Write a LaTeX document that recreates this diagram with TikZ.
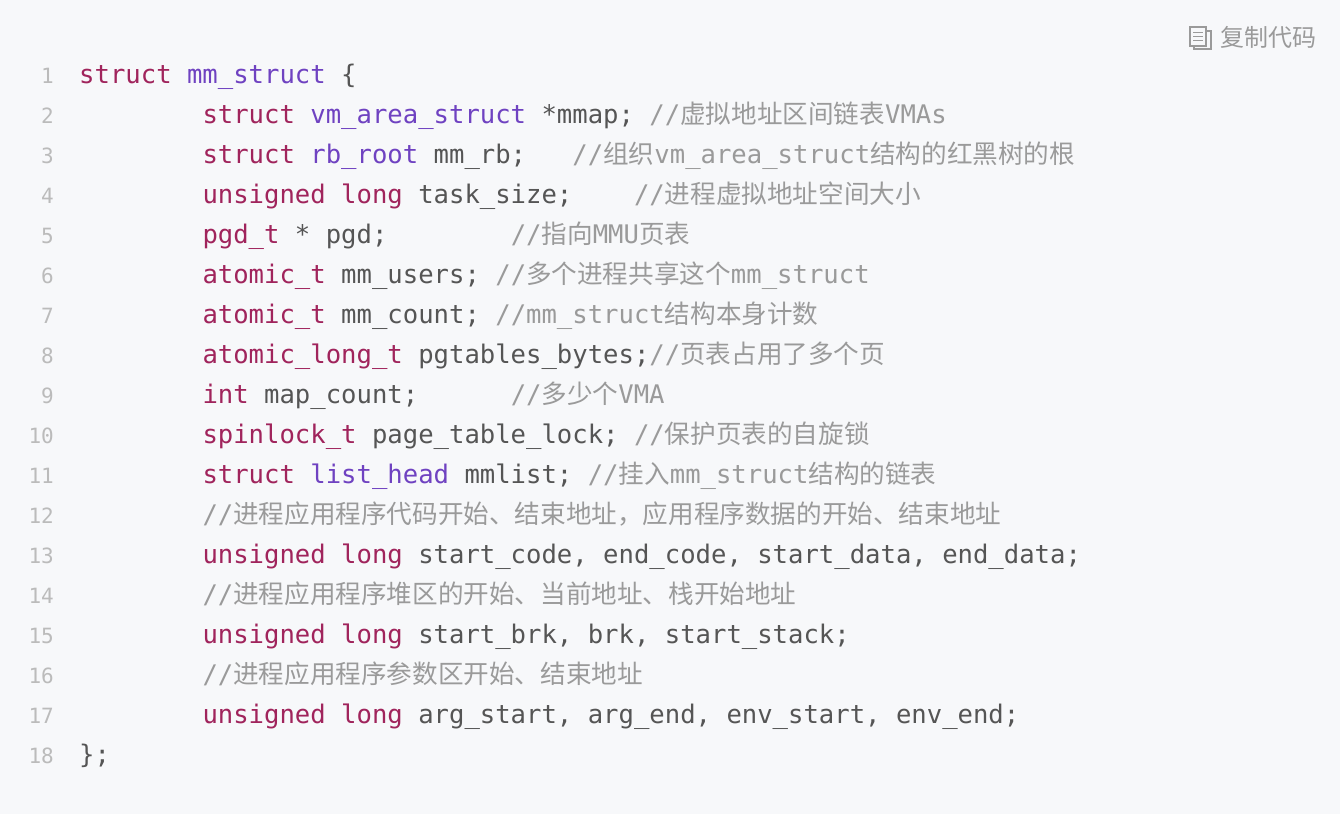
\documentclass[tikz,border=0pt]{standalone}
\usepackage{fontspec}
\setmonofont{DejaVu Sans Mono}
\newfontfamily\cjk{Noto Sans CJK SC}
\definecolor{bg}{HTML}{F7F8FA}
\definecolor{kwc}{HTML}{A0245C}
\definecolor{tyc}{HTML}{6F42C1}
\definecolor{txc}{HTML}{555555}
\definecolor{cmt}{HTML}{9A9A9A}
\definecolor{lnc}{HTML}{BBBBBB}
\newcommand\K[1]{\textcolor{kwc}{#1}}
\newcommand\T[1]{\textcolor{tyc}{#1}}
\newcommand\M[1]{\textcolor{cmt}{#1}}
\newcommand\C[1]{{\cjk #1}}
\newcommand\SP[1]{\hspace*{#1\fontcharwd\font`0}}
\newcommand\CL[2]{\node[code] (l#1) at (79,{83+40*(#1-1)}) {#2};}
\tikzset{code/.style={anchor=base west,inner sep=0,font=\ttfamily\fontsize{25.6}{30}\selectfont,text=txc},
 num/.style={anchor=base east,inner sep=0,font=\ttfamily\fontsize{21}{26}\selectfont,text=lnc}}
\begin{document}
\begin{tikzpicture}[x=1pt,y=-1pt]
\fill[bg] (0,0) rectangle (1340,814);
\useasboundingbox (0,0) rectangle (1340,814);
\foreach \i in {1,...,18}{\node[num] (n\i) at (54,{83+40*(\i-1)}) {\i};}
\CL{1}{\K{struct} \T{mm\_struct} \{}
\CL{2}{\SP8\K{struct} \T{vm\_area\_struct} *mmap; \M{//\C{虚拟地址区间链表}VMAs}}
\CL{3}{\SP8\K{struct} \T{rb\_root} mm\_rb;\SP3\M{//\C{组织}vm\_area\_struct\C{结构的红黑树的根}}}
\CL{4}{\SP8\K{unsigned} \K{long} task\_size;\SP4\M{//\C{进程虚拟地址空间大小}}}
\CL{5}{\SP8\K{pgd\_t} * pgd;\SP8\M{//\C{指向}MMU\C{页表}}}
\CL{6}{\SP8\K{atomic\_t} mm\_users; \M{//\C{多个进程共享这个}mm\_struct}}
\CL{7}{\SP8\K{atomic\_t} mm\_count; \M{//mm\_struct\C{结构本身计数}}}
\CL{8}{\SP8\K{atomic\_long\_t} pgtables\_bytes;\M{//\C{页表占用了多个页}}}
\CL{9}{\SP8\K{int} map\_count;\SP6\M{//\C{多少个}VMA}}
\CL{10}{\SP8\K{spinlock\_t} page\_table\_lock; \M{//\C{保护页表的自旋锁}}}
\CL{11}{\SP8\K{struct} \T{list\_head} mmlist; \M{//\C{挂入}mm\_struct\C{结构的链表}}}
\CL{12}{\SP8\M{//\C{进程应用程序代码开始、结束地址，应用程序数据的开始、结束地址}}}
\CL{13}{\SP8\K{unsigned} \K{long} start\_code, end\_code, start\_data, end\_data;}
\CL{14}{\SP8\M{//\C{进程应用程序堆区的开始、当前地址、栈开始地址}}}
\CL{15}{\SP8\K{unsigned} \K{long} start\_brk, brk, start\_stack;}
\CL{16}{\SP8\M{//\C{进程应用程序参数区开始、结束地址}}}
\CL{17}{\SP8\K{unsigned} \K{long} arg\_start, arg\_end, env\_start, env\_end;}
\CL{18}{\};}
% copy icon
\draw[cmt,line width=1.2pt] (1190,27) rectangle (1206,46);
\draw[cmt,line width=1.2pt] (1206,31) -- (1211,31) -- (1211,49) -- (1194,49) -- (1194,46);
\foreach \yy in {32,36,40}{\draw[cmt,line width=1pt] (1193,\yy) -- (1203,\yy);}
\node[anchor=base west,inner sep=0,text=cmt,font=\cjk\fontsize{24}{28}\selectfont] (copy) at (1220,46) {复制代码};
\end{tikzpicture}
\end{document}
